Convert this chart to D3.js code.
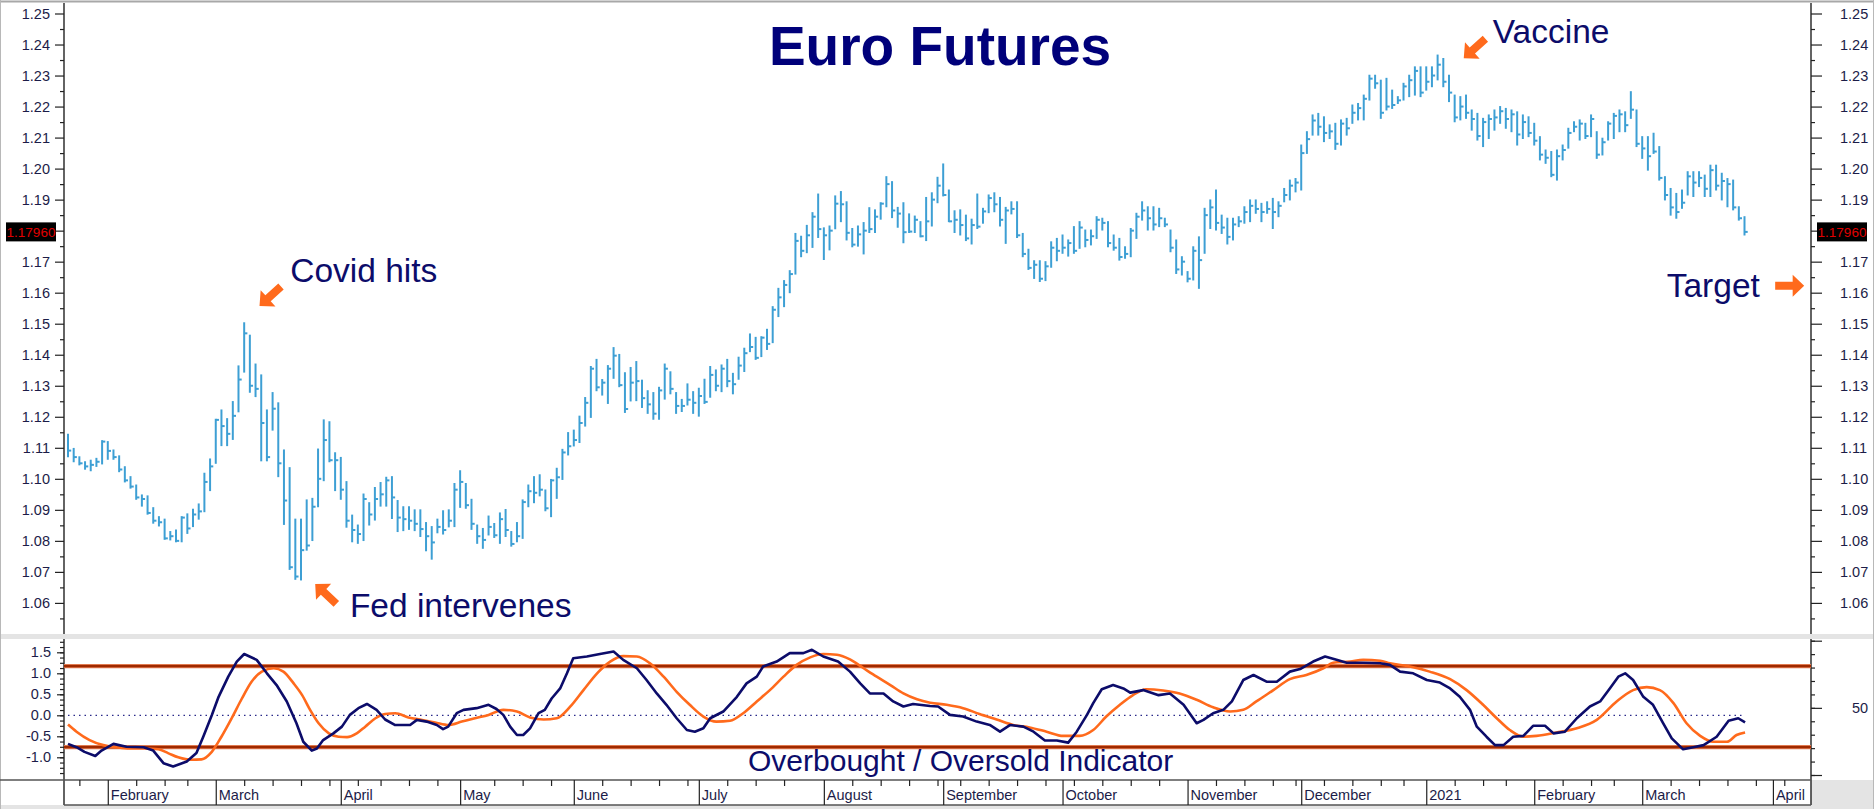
<!DOCTYPE html>
<html><head><meta charset="utf-8">
<script src="https://cdn.jsdelivr.net/npm/d3@7"></script>
<style>
html,body{margin:0;padding:0;background:#fff;}
svg{display:block;font-family:"Liberation Sans",Arial,sans-serif;}
</style></head><body>
<svg id="chart" width="1874" height="809"></svg>
<script>
// ---------------- DATA ----------------
const highs = [
1.1144,1.1098,1.1071,1.1055,1.1060,1.1066,1.1123,1.1120,1.1093,1.1074,
1.1039,1.1007,1.0980,1.0948,1.0945,1.0907,1.0878,1.0870,1.0830,1.0835,
1.0878,1.0887,1.0902,1.0919,1.1018,1.1064,1.1192,1.1222,1.1194,1.1249,
1.1364,1.1503,1.1463,1.1370,1.1335,1.1222,1.1278,1.1245,1.1093,1.1036,
1.0870,1.0870,1.0932,1.0937,1.1096,1.1190,1.1184,1.1084,1.1069,1.0991,
1.0883,1.0851,1.0951,1.0923,1.0972,1.0988,1.1005,1.1007,1.0930,1.0910,
1.0910,1.0900,1.0900,1.0859,1.0846,1.0870,1.0897,1.0900,1.0985,1.1026,
1.0985,1.0934,1.0851,1.0840,1.0880,1.0856,1.0890,1.0901,1.0830,1.0859,
1.0932,1.0980,1.1007,1.1013,1.0964,1.0998,1.1034,1.1095,1.1149,
1.1157,1.1202,1.1262,1.1362,1.1385,1.1320,1.1365,1.1423,1.1401,1.1342,
1.1359,1.1378,1.1318,1.1284,1.1278,1.1295,1.1370,1.1345,1.1278,1.1256,
1.1306,1.1281,1.1292,1.1321,1.1362,1.1351,1.1367,1.1385,1.1340,1.1392,
1.1421,1.1467,1.1456,1.1458,1.1482,1.1555,1.1614,1.1639,1.1671,1.1791,
1.1782,1.1817,1.1858,1.1918,1.1809,1.1815,1.1912,1.1926,1.1893,1.1807,
1.1815,1.1826,1.1874,1.1867,1.1890,1.1974,1.1958,1.1875,1.1890,1.1854,
1.1847,1.1829,1.1907,1.1922,1.1972,1.2015,1.1931,1.1864,1.1867,1.1850,
1.1837,1.1918,1.1872,1.1915,1.1922,1.1907,1.1875,1.1893,1.1893,1.1791,
1.1740,1.1703,1.1703,1.1700,1.1764,1.1775,
1.1786,1.1770,1.1813,1.1829,1.1802,1.1802,1.1845,1.1840,1.1829,1.1786,
1.1775,1.1748,1.1807,1.1856,1.1893,1.1877,1.1877,1.1872,1.1840,1.1802,
1.1770,1.1716,1.1668,1.1748,1.1780,1.1872,1.1899,1.1931,1.1850,1.1840,
1.1840,1.1845,1.1877,1.1899,1.1899,1.1888,1.1893,1.1904,1.1893,1.1936,
1.1963,1.1968,1.2076,1.2119,1.2173,1.2178,1.2167,1.2141,1.2146,1.2157,
1.2162,1.2205,1.2210,1.2237,1.2301,1.2301,1.2285,1.2291,1.2253,1.2232,
1.2275,1.2301,1.2328,1.2328,1.2328,1.2328,1.2366,1.2355,1.2301,1.2237,
1.2232,1.2237,1.2189,1.2178,1.2162,1.2173,1.2189,1.2200,1.2194,1.2189,
1.2183,1.2173,1.2167,1.2146,1.2103,1.2060,1.2055,1.2060,1.2076,1.2130,
1.2151,
1.2157,1.2146,1.2173,1.2119,1.2098,1.2151,1.2178,1.2189,1.2183,1.2248,
1.2189,1.2103,1.2103,1.2114,1.2071,1.1974,1.1936,1.1920,1.1931,1.1990,
1.1990,1.1990,1.1979,1.2011,1.2011,1.1985,1.1968,1.1963,1.1877,1.1845];

const lows = [
1.1071,1.1055,1.1045,1.1031,1.1026,1.1040,1.1048,1.1063,1.1063,1.1023,
1.0990,1.0970,1.0934,1.0912,1.0886,1.0857,1.0848,1.0805,1.0803,1.0797,
1.0797,1.0824,1.0846,1.0870,1.0894,1.0962,1.1050,1.1107,1.1107,1.1127,
1.1216,1.1344,1.1279,1.1265,1.1058,1.1058,1.1157,1.1007,1.0853,1.0708,
1.0676,1.0674,1.0770,1.0801,1.0910,1.0994,1.1055,1.0962,1.0934,1.0844,
1.0797,1.0792,1.0801,1.0851,1.0867,1.0912,1.0912,1.0872,1.0830,1.0833,
1.0837,1.0833,1.0814,1.0768,1.0741,1.0826,1.0822,1.0845,1.0846,1.0908,
1.0905,1.0837,1.0792,1.0776,1.0819,1.0811,1.0792,1.0814,1.0783,1.0797,
1.0808,1.0910,1.0923,1.0945,1.0897,1.0878,1.0937,1.0998,1.1077,
1.1106,1.1117,1.1170,1.1198,1.1284,1.1270,1.1243,1.1324,1.1297,1.1214,
1.1251,1.1252,1.1230,1.1211,1.1192,1.1192,1.1257,1.1274,1.1211,1.1217,
1.1238,1.1211,1.1202,1.1243,1.1263,1.1284,1.1281,1.1297,1.1274,1.1321,
1.1346,1.1410,1.1385,1.1394,1.1417,1.1439,1.1523,1.1555,1.1600,1.1660,
1.1716,1.1729,1.1746,1.1778,1.1707,1.1738,1.1806,1.1829,1.1770,1.1748,
1.1750,1.1725,1.1794,1.1794,1.1837,1.1877,1.1842,1.1811,1.1761,1.1794,
1.1794,1.1780,1.1768,1.1815,1.1890,1.1912,1.1829,1.1794,1.1786,1.1768,
1.1757,1.1807,1.1824,1.1858,1.1861,1.1815,1.1759,1.1854,1.1778,1.1716,
1.1675,1.1646,1.1636,1.1639,1.1682,1.1703,
1.1727,1.1718,1.1727,1.1743,1.1748,1.1754,1.1775,1.1802,1.1748,1.1737,
1.1705,1.1711,1.1716,1.1775,1.1834,1.1802,1.1802,1.1813,1.1813,1.1732,
1.1662,1.1657,1.1635,1.1641,1.1614,1.1727,1.1807,1.1802,1.1791,1.1757,
1.1770,1.1813,1.1824,1.1829,1.1856,1.1829,1.1856,1.1807,1.1845,1.1893,
1.1899,1.1925,1.1931,1.2049,1.2108,1.2108,1.2087,1.2097,1.2062,1.2076,
1.2108,1.2146,1.2157,1.2157,1.2221,1.2259,1.2162,1.2189,1.2194,1.2210,
1.2221,1.2232,1.2237,1.2232,1.2253,1.2264,1.2286,1.2264,1.2216,1.2151,
1.2157,1.2162,1.2124,1.2092,1.2071,1.2097,1.2124,1.2146,1.2130,1.2119,
1.2076,1.2097,1.2103,1.2076,1.2028,1.2017,1.1974,1.1963,1.2028,1.2066,
1.2119,
1.2092,1.2097,1.2103,1.2033,1.2044,1.2092,1.2097,1.2119,1.2119,1.2162,
1.2071,1.2033,1.1995,1.2049,1.1963,1.1899,1.1850,1.1840,1.1872,1.1915,
1.1910,1.1942,1.1910,1.1910,1.1931,1.1899,1.1877,1.1867,1.1834,1.1786];

const closes = [
1.1091,1.1070,1.1050,1.1040,1.1045,1.1055,1.1120,1.1090,1.1070,1.1030,
1.0995,1.0975,1.0940,1.0935,1.0890,1.0865,1.0860,1.0808,1.0815,1.0800,
1.0875,1.0840,1.0885,1.0895,1.0990,1.1040,1.1190,1.1170,1.1145,1.1203,
1.1320,1.1469,1.1300,1.1290,1.1180,1.1070,1.1226,1.1050,1.0930,1.0715,
1.0685,1.0770,1.0785,1.0910,1.1000,1.1125,1.1060,1.1060,1.0965,1.0865,
1.0835,1.0822,1.0935,1.0885,1.0935,1.0950,1.0995,1.0940,1.0875,1.0870,
1.0865,1.0855,1.0838,1.0815,1.0795,1.0845,1.0835,1.0865,1.0965,1.0990,
1.0915,1.0855,1.0815,1.0803,1.0845,1.0818,1.0870,1.0835,1.0790,1.0815,
1.0925,1.0960,1.0955,1.0965,1.0905,1.0995,1.1005,1.1085,1.1105,
1.1125,1.1180,1.1245,1.1355,1.1295,1.1310,1.1355,1.1397,1.1302,1.1225,
1.1310,1.1315,1.1260,1.1240,1.1210,1.1285,1.1355,1.1290,1.1235,1.1235,
1.1255,1.1245,1.1267,1.1248,1.1335,1.1300,1.1355,1.1315,1.1305,1.1365,
1.1405,1.1425,1.1390,1.1455,1.1435,1.1545,1.1585,1.1625,1.1660,1.1767,
1.1735,1.1785,1.1845,1.1805,1.1785,1.1800,1.1887,1.1885,1.1793,1.1755,
1.1788,1.1800,1.1805,1.1845,1.1887,1.1950,1.1865,1.1855,1.1795,1.1797,
1.1835,1.1782,1.1830,1.1900,1.1945,1.1915,1.1830,1.1835,1.1818,1.1775,
1.1818,1.1813,1.1862,1.1905,1.1885,1.1835,1.1865,1.1870,1.1785,1.1725,
1.1680,1.1690,1.1645,1.1685,1.1745,1.1735,
1.1745,1.1760,1.1735,1.1810,1.1770,1.1782,1.1835,1.1825,1.1760,1.1745,
1.1715,1.1725,1.1800,1.1845,1.1865,1.1840,1.1820,1.1840,1.1820,1.1745,
1.1675,1.1700,1.1645,1.1735,1.1705,1.1850,1.1875,1.1825,1.1810,1.1780,
1.1820,1.1830,1.1860,1.1880,1.1870,1.1860,1.1870,1.1860,1.1880,1.1915,
1.1945,1.1955,1.2050,1.2095,1.2155,1.2135,1.2115,1.2120,1.2080,1.2145,
1.2130,1.2180,1.2195,1.2225,1.2290,1.2275,1.2180,1.2200,1.2205,1.2220,
1.2265,1.2285,1.2315,1.2245,1.2280,1.2300,1.2335,1.2280,1.2245,1.2165,
1.2200,1.2180,1.2160,1.2105,1.2150,1.2160,1.2165,1.2185,1.2160,1.2175,
1.2110,1.2150,1.2115,1.2090,1.2045,1.2035,1.1980,1.2040,1.2060,1.2115,
1.2135,
1.2145,1.2105,1.2160,1.2045,1.2085,1.2145,1.2170,1.2175,1.2140,1.2190,
1.2080,1.2065,1.2040,1.2055,1.1970,1.1915,1.1875,1.1860,1.1890,1.1975,
1.1955,1.1970,1.1935,1.1995,1.1945,1.1960,1.1950,1.1875,1.1840,1.1796];

// Overbought / Oversold indicator: [bar index, value]
const fastLine = [[0,-0.68],[1.5,-0.76],[2.9,-0.87],[4.8,-0.97],[5.9,-0.84],[8.0,-0.68],[10.3,-0.75],[13.3,-0.76],[15.0,-0.84],[16.8,-1.14],[18.5,-1.22],[20.9,-1.10],[22.6,-0.90],[23.8,-0.51],[25.3,0.0],[26.5,0.44],[28.2,0.92],[29.7,1.28],[31.0,1.46],[33.2,1.32],[35.0,1.0],[36.7,0.72],[38.5,0.33],[40.2,-0.19],[41.4,-0.63],[42.9,-0.84],[43.8,-0.79],[44.9,-0.59],[46.7,-0.43],[48.2,-0.27],[49.6,0.01],[51.1,0.17],[52.6,0.27],[54.3,0.13],[55.8,-0.10],[57.5,-0.23],[60.2,-0.23],[61.4,-0.11],[63.1,-0.15],[64.9,-0.23],[66.0,-0.33],[66.9,-0.27],[68.4,0.05],[69.6,0.13],[71.9,0.17],[74.0,0.25],[75.4,0.15],[76.6,0.01],[77.8,-0.27],[79.0,-0.47],[80.1,-0.47],[81.3,-0.31],[82.8,0.05],[83.9,0.13],[85.1,0.40],[86.6,0.64],[87.8,1.0],[88.9,1.36],[91.3,1.40],[93.6,1.46],[96.0,1.52],[97.7,1.32],[100.1,1.12],[101.8,0.84],[103.6,0.52],[105.3,0.25],[107.1,-0.07],[108.9,-0.35],[110.3,-0.39],[111.8,-0.31],[113.0,-0.07],[115.3,0.09],[117.7,0.44],[119.4,0.76],[121.2,0.92],[122.3,1.16],[124.7,1.28],[127.0,1.48],[129.4,1.48],[130.9,1.56],[132.9,1.40],[135.5,1.28],[137.6,1.04],[139.4,0.76],[141.1,0.52],[143.5,0.52],[145.2,0.33],[147.0,0.21],[148.7,0.27],[151.7,0.22],[153.1,0.21],[155.2,0.01],[157.5,-0.03],[159.9,-0.15],[162.2,-0.23],[164.0,-0.39],[165.8,-0.23],[168.1,-0.27],[169.9,-0.39],[171.9,-0.60],[174.0,-0.60],[176.0,-0.65],[177.5,-0.39],[179.3,0.01],[180.4,0.29],[181.9,0.62],[183.9,0.72],[185.7,0.64],[186.9,0.54],[189.2,0.60],[191.9,0.48],[193.9,0.52],[196.3,0.25],[198.6,-0.19],[199.8,-0.11],[201.5,0.05],[203.3,0.13],[204.8,0.33],[206.8,0.84],[208.6,0.96],[210.9,0.80],[212.7,0.80],[215.0,1.04],[216.8,1.10],[219.1,1.28],[221.2,1.40],[223.2,1.32],[225.0,1.25],[227.9,1.25],[230.9,1.24],[232.6,1.20],[234.4,1.04],[236.7,1.0],[239.1,0.84],[241.4,0.78],[243.2,0.64],[244.9,0.44],[246.7,0.13],[247.9,-0.27],[249.6,-0.51],[251.1,-0.71],[252.6,-0.71],[254.3,-0.51],[256.1,-0.49],[257.8,-0.25],[259.9,-0.25],[261.4,-0.43],[263.4,-0.39],[265.5,-0.07],[267.8,0.21],[269.6,0.33],[271.3,0.64],[272.8,0.92],[274.0,1.0],[275.4,0.84],[277.2,0.44],[278.9,0.25],[280.7,-0.19],[282.2,-0.55],[284.2,-0.81],[286.0,-0.76],[287.8,-0.71],[290.1,-0.51],[292.2,-0.13],[293.9,-0.07],[295.1,-0.17]];

const slowLine = [[0,-0.22],[1.5,-0.39],[3.8,-0.59],[6.2,-0.71],[8.5,-0.76],[10.8,-0.79],[13.6,-0.79],[15.9,-0.81],[17.6,-0.90],[19.4,-1.0],[21.7,-1.06],[23.5,-1.05],[25.3,-0.87],[27.0,-0.51],[28.8,-0.07],[30.6,0.40],[32.3,0.80],[34.1,1.04],[36.2,1.12],[37.9,1.04],[39.7,0.76],[41.2,0.48],[42.6,0.13],[44.1,-0.19],[45.9,-0.43],[47.6,-0.51],[49.1,-0.52],[50.8,-0.43],[52.3,-0.27],[54.1,-0.07],[55.8,0.03],[57.6,0.05],[59.9,-0.05],[62.3,-0.11],[64.6,-0.17],[67.0,-0.23],[69.3,-0.15],[71.6,-0.07],[74.0,0.01],[76.6,0.13],[79.0,0.09],[81.3,-0.05],[83.7,-0.10],[86.0,-0.07],[88.4,0.21],[90.7,0.60],[93.1,1.0],[95.4,1.28],[97.7,1.41],[100.1,1.40],[102.4,1.24],[104.8,0.92],[107.1,0.56],[109.4,0.25],[111.8,-0.03],[114.1,-0.15],[116.5,-0.13],[118.8,0.05],[121.2,0.33],[123.5,0.60],[125.9,0.92],[128.2,1.20],[130.6,1.38],[132.9,1.46],[135.3,1.44],[137.6,1.33],[140.0,1.12],[142.3,0.92],[144.7,0.72],[147.0,0.52],[149.4,0.38],[151.7,0.30],[154.6,0.25],[157.5,0.17],[160.4,0.03],[163.4,-0.10],[166.3,-0.23],[169.2,-0.29],[172.2,-0.39],[175.1,-0.49],[178.0,-0.49],[180.4,-0.35],[182.7,-0.03],[185.1,0.25],[187.4,0.48],[189.7,0.62],[192.7,0.59],[195.6,0.52],[198.6,0.37],[201.5,0.19],[204.5,0.09],[206.8,0.13],[209.1,0.33],[212.1,0.60],[215.0,0.86],[217.9,0.96],[220.9,1.12],[222.6,1.25],[225.6,1.28],[227.9,1.32],[230.9,1.30],[232.6,1.24],[236.1,1.16],[239.6,1.04],[243.2,0.86],[246.1,0.60],[249.0,0.25],[251.4,-0.07],[253.7,-0.35],[256.1,-0.51],[258.4,-0.49],[261.9,-0.41],[265.5,-0.31],[269.0,-0.11],[272.5,0.33],[275.4,0.60],[277.8,0.67],[280.1,0.60],[282.5,0.29],[284.8,-0.19],[287.2,-0.49],[289.5,-0.63],[291.9,-0.63],[293.6,-0.47],[295.1,-0.41]];

const bandLevels = [1.17, -0.76];

// axis labels
const monthLabels = ["February","March","April","May","June","July","August","September","October","November","December","2021","February","March","April"];
const monthIdx    = [7,26,48,69,89,111,133,154,175,197,217,239,258,277,300];
const weekIdx = [2,12,17,21,31,36,41,46,51,55,60,65,75,80,85,94,99,104,109,116,121,126,138,143,148,153,157,162,167,172,177,182,187,192,202,207,212,216,221,226,231,235,244,249,253,263,268,272,282,287,292,297,302];
const priceTicks = d3.range(106,126).map(v => v/100);
const oscTicks = [-1,-0.5,0,0.5,1,1.5];

// annotations (positions in data space)
const annoText  = ["Covid hits","Fed intervenes","Vaccine","Target"];
const annoIdx   = [39.1, 49.6, 250.7, 297.7];
const annoPrice = [1.1634, 1.0556, 1.2404, 1.1587];
const arrowIdx  = [33.7, 43.5, 245.6, 305.5];
const arrowPrice= [1.1557, 1.0661, 1.2356, 1.1622];

// ---------------- DRAW ----------------
const W = 1874, H = 809;
const PX0 = 64, PX1 = 1811;
const MAIN_T = 3, MAIN_B = 634, OSC_T = 639, OSC_B = 780, AX_B = 805;
const NAVY = "#0c0c6a", BAR = "#3d9fd4", ORANGE = "#ff6a1c";

const svg = d3.select("#chart");
const x  = d3.scaleLinear().domain([0, 295]).range([68, 1744.5]);
const y  = d3.scaleLinear().domain([1.06, 1.25]).range([602.9, 13.5]);
const yo = d3.scaleLinear().domain([0, 1]).range([715.3, 673.3]);
const yr = d3.scaleLinear().domain([0, 100]).range([775, 640.7]);

const last = closes[closes.length - 1];
const lastTxt = last.toFixed(5);
// the label nearest the last price is hidden behind the last-price box
const hiddenTick = priceTicks.reduce((a, b) => Math.abs(b - last) < Math.abs(a - last) ? b : a);
const priceFmt = d => Math.abs(d - hiddenTick) < 1e-9 ? "" : d.toFixed(2);

svg.append("rect").attr("width", W).attr("height", H).attr("fill", "#fff");
// separators / frame
svg.append("rect").attr("x", 0).attr("y", MAIN_B).attr("width", W).attr("height", OSC_T - MAIN_B).attr("fill", "#e4e4e4");
svg.append("rect").attr("x", 0).attr("y", AX_B).attr("width", W).attr("height", H - AX_B).attr("fill", "#e4e4e4");
svg.append("rect").attr("x", PX1).attr("y", OSC_B).attr("width", W - PX1).attr("height", AX_B - OSC_B).attr("fill", "#e4e4e4");
svg.append("line").attr("x1", 0).attr("x2", W).attr("y1", 1.5).attr("y2", 1.5).attr("stroke", "#a8a8a8").attr("stroke-width", 2);
svg.append("line").attr("x1", 0.5).attr("x2", 0.5).attr("y1", 0).attr("y2", H).attr("stroke", "#b8b8b8");
svg.append("line").attr("x1", W-0.5).attr("x2", W-0.5).attr("y1", 0).attr("y2", H).attr("stroke", "#b8b8b8");

const frame = svg.append("g").attr("stroke", "#222").attr("stroke-width", 1.4);
frame.append("line").attr("x1", PX0).attr("x2", PX0).attr("y1", MAIN_T).attr("y2", MAIN_B);
frame.append("line").attr("x1", PX0).attr("x2", PX0).attr("y1", OSC_T).attr("y2", AX_B);
frame.append("line").attr("x1", PX1).attr("x2", PX1).attr("y1", MAIN_T).attr("y2", MAIN_B);
frame.append("line").attr("x1", PX1).attr("x2", PX1).attr("y1", OSC_T).attr("y2", AX_B);
frame.append("line").attr("x1", 0).attr("x2", PX1).attr("y1", OSC_B).attr("y2", OSC_B).attr("stroke", "#555");
frame.append("line").attr("x1", PX0).attr("x2", PX1).attr("y1", AX_B).attr("y2", AX_B).attr("stroke", "#555");

function styleAxis(g) {
  g.select(".domain").remove();
  g.attr("font-family", "'Liberation Sans', Arial, sans-serif").attr("font-size", 14.5);
  g.selectAll(".tick line").attr("stroke", "#222").attr("stroke-width", 1.2);
  g.selectAll(".tick text").attr("fill", "#1c1c48");
}
const minorPrice = d3.range(1055, 1250, 10).map(v => v / 1000);
// price axes
svg.append("g").attr("transform", `translate(${PX0},0)`)
  .call(d3.axisLeft(y).tickValues(priceTicks).tickSize(9).tickPadding(5).tickFormat(priceFmt)).call(styleAxis);
svg.append("g").attr("transform", `translate(${PX0},0)`)
  .call(d3.axisLeft(y).tickValues(minorPrice).tickSize(4).tickFormat("")).call(styleAxis);
svg.append("g").attr("transform", `translate(${PX1},0)`)
  .call(d3.axisRight(y).tickValues(priceTicks).tickSize(11).tickPadding(18).tickFormat(priceFmt)).call(styleAxis);
svg.append("g").attr("transform", `translate(${PX1},0)`)
  .call(d3.axisRight(y).tickValues(minorPrice).tickSize(4).tickFormat("")).call(styleAxis);

// oscillator axes
svg.append("g").attr("transform", `translate(${PX0},0)`)
  .call(d3.axisLeft(yo).tickValues(oscTicks).tickSize(7).tickPadding(6).tickFormat(d => d.toFixed(1))).call(styleAxis);
svg.append("g").attr("transform", `translate(${PX0},0)`)
  .call(d3.axisLeft(yo).tickValues(d3.range(-11, 15).map(v => v * 0.125)).tickSize(4).tickFormat("")).call(styleAxis);
svg.append("g").attr("transform", `translate(${PX1},0)`)
  .call(d3.axisRight(yr).tickValues(d3.range(0, 101, 10)).tickSize(4).tickFormat("")).call(styleAxis);
svg.append("g").attr("transform", `translate(${PX1},0)`)
  .call(d3.axisRight(yr).tickValues([0, 50, 100]).tickSize(11).tickPadding(30).tickFormat(d => d === 50 ? "50" : "")).call(styleAxis);

// time axis
svg.append("g").attr("transform", `translate(0,${OSC_B})`)
  .call(d3.axisBottom(x).tickValues(weekIdx).tickSize(6).tickFormat("")).call(styleAxis);
svg.append("g").attr("transform", `translate(0,${OSC_B})`)
  .call(d3.axisBottom(x).tickValues(monthIdx).tickSize(AX_B - OSC_B).tickFormat("")).call(styleAxis);
svg.append("g").selectAll("text").data(monthIdx).join("text")
  .attr("x", d => x(d) + 3).attr("y", 800)
  .attr("font-size", 14.5).attr("fill", "#1c1c48")
  .text((d, i) => monthLabels[i]);

// price bars (HLC)
const idx = d3.range(highs.length);
const bars = svg.append("g").attr("stroke", BAR).attr("stroke-width", 2);
bars.selectAll("line.hl").data(idx).join("line").attr("class", "hl")
  .attr("x1", i => x(i)).attr("x2", i => x(i))
  .attr("y1", i => y(highs[i]) - 0.5).attr("y2", i => y(lows[i]) + 0.5);
bars.selectAll("line.cl").data(idx).join("line").attr("class", "cl")
  .attr("x1", i => x(i)).attr("x2", i => x(i) + 3.2)
  .attr("y1", i => y(closes[i])).attr("y2", i => y(closes[i]));

// oscillator bands
const bandG = svg.append("g");
bandLevels.forEach(v => {
  bandG.append("line").attr("x1", PX0).attr("x2", PX1).attr("y1", yo(v)).attr("y2", yo(v))
    .attr("stroke", "#e07a50").attr("stroke-width", 4.2);
  bandG.append("line").attr("x1", PX0).attr("x2", PX1).attr("y1", yo(v)).attr("y2", yo(v))
    .attr("stroke", "#a02a00").attr("stroke-width", 2.2);
});
svg.append("line").attr("x1", x(0)).attr("x2", x(295)).attr("y1", yo(0)).attr("y2", yo(0))
  .attr("stroke", "#2a2a8a").attr("stroke-width", 1.3).attr("stroke-dasharray", "1.5,4");

const lineGen = d3.line().x(d => x(d[0])).y(d => yo(d[1]));
svg.append("path").attr("d", lineGen.curve(d3.curveMonotoneX)(slowLine))
  .attr("fill", "none").attr("stroke", ORANGE).attr("stroke-width", 2.6);
svg.append("path").attr("d", d3.line().x(d => x(d[0])).y(d => yo(d[1]))(fastLine))
  .attr("fill", "none").attr("stroke", NAVY).attr("stroke-width", 2.6).attr("stroke-linejoin", "round");

svg.append("text").attr("x", 748).attr("y", 771).attr("font-size", 30).attr("fill", NAVY)
  .text("Overbought / Oversold Indicator");

// title
svg.append("text").attr("x", 940).attr("y", 65).attr("text-anchor", "middle")
  .attr("font-size", 55).attr("font-weight", "bold").attr("fill", "#00007a").text("Euro Futures");

// annotations
const arrowAngle = [137.8, -136.7, 138.2, 0];
function arrowPath(L, sw, hw, hl) {
  return `M${-L},${-sw/2} L${-hl},${-sw/2} L${-hl},${-hw/2} L0,0 L${-hl},${hw/2} L${-hl},${sw/2} L${-L},${sw/2} Z`;
}
annoText.forEach((t, i) => {
  svg.append("text").attr("x", x(annoIdx[i])).attr("y", y(annoPrice[i]))
    .attr("text-anchor", i === 3 ? "end" : "start")
    .attr("font-size", 33.5).attr("fill", NAVY).text(t);
  svg.append("path").attr("d", arrowPath(29, 8, 22, 11.5))
    .attr("transform", `translate(${x(arrowIdx[i])},${y(arrowPrice[i])}) rotate(${arrowAngle[i]})`)
    .attr("fill", ORANGE);
});

// last price boxes
[[6, 50], [1817, 50]].forEach(([bx, bw]) => {
  svg.append("rect").attr("x", bx).attr("y", y(last) - 9.5).attr("width", bw).attr("height", 19).attr("fill", "#000");
  svg.append("text").attr("x", bx + bw / 2).attr("y", y(last) + 5).attr("text-anchor", "middle")
    .attr("font-size", 13.5).attr("fill", "#e00000").text(lastTxt);
});
</script>
</body></html>
